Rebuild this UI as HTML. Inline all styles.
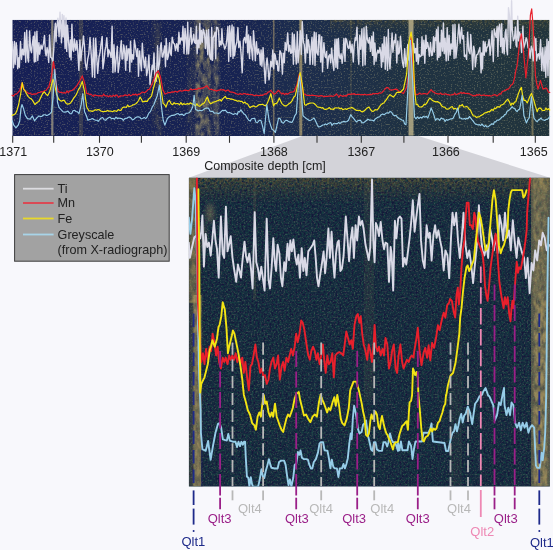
<!DOCTYPE html>
<html><head><meta charset="utf-8"><title>Composite depth</title><style>html,body{margin:0;padding:0;background:#f8f8fc;width:553px;height:550px;overflow:hidden}svg{display:block}</style></head><body>
<svg width="553" height="550" viewBox="0 0 553 550">
<defs><clipPath id="ctp"><rect x="12.3" y="19.8" width="537.2" height="116.3"/></clipPath><clipPath id="czp"><rect x="188.9" y="177.7" width="361.0" height="308.7"/></clipPath>

<filter id="blur1" x="-50%" y="0" width="200%" height="100%"><feGaussianBlur stdDeviation="0.6 0"/></filter>
<filter id="blur2" x="-50%" y="-50%" width="200%" height="200%"><feGaussianBlur stdDeviation="2.5"/></filter>
<filter id="spk" x="0" y="0" width="100%" height="100%" color-interpolation-filters="sRGB">
 <feTurbulence type="fractalNoise" baseFrequency="0.7" numOctaves="1" seed="5" result="n"/>
 <feColorMatrix type="matrix" values="0 0 0 0 0.70  0 0 0 0 0.68  0 0 0 0 0.50  5 0 0 0 -2.7"/>
 <feGaussianBlur stdDeviation="0.35"/>
</filter>
<filter id="spk2b" x="0" y="0" width="100%" height="100%" color-interpolation-filters="sRGB">
 <feTurbulence type="fractalNoise" baseFrequency="0.4" numOctaves="2" seed="13" result="n"/>
 <feColorMatrix in="n" type="matrix" values="0 0 0 0 0  0 0 0 0 0  0 0 0 0 0  2.5 0 0 0 -0.7" result="m"/>
 <feComposite in="SourceGraphic" in2="m" operator="in"/>
</filter>
<filter id="mottm" x="-30%" y="0" width="160%" height="100%" color-interpolation-filters="sRGB">
 <feGaussianBlur in="SourceGraphic" stdDeviation="0.8 0" result="b"/>
 <feTurbulence type="fractalNoise" baseFrequency="0.25 0.12" numOctaves="2" seed="21" result="n"/>
 <feColorMatrix in="n" type="matrix" values="0 0 0 0 0  0 0 0 0 0  0 0 0 0 0  2.2 0 0 0 -0.6" result="m"/>
 <feComposite in="b" in2="m" operator="in"/>
</filter>
<filter id="spk2" x="0" y="0" width="100%" height="100%" color-interpolation-filters="sRGB">
 <feTurbulence type="fractalNoise" baseFrequency="0.35" numOctaves="2" seed="9"/>
 <feColorMatrix type="matrix" values="0 0 0 0 0.35  0 0 0 0 0.45  0 0 0 0 0.45  3 0 0 0 -1.55"/>
</filter>
<filter id="mott" x="0" y="0" width="100%" height="100%" color-interpolation-filters="sRGB">
 <feTurbulence type="fractalNoise" baseFrequency="0.5" numOctaves="2" seed="4"/>
 <feColorMatrix type="matrix" values="0 0 0 0 0.08  0.3 0 0 0 0.01  0.05 0 0 0 0.215  0 0 0 0 1"/>
</filter>
<filter id="mott2" x="0" y="0" width="100%" height="100%" color-interpolation-filters="sRGB">
 <feTurbulence type="fractalNoise" baseFrequency="0.5" numOctaves="2" seed="8"/>
 <feColorMatrix type="matrix" values="0 0 0 0 0.2  0 0 0 0 0.32  0 0 0 0 0.36  1.4 0 0 0 -0.62"/>
</filter>
<linearGradient id="tpg" x1="0" x2="1" y1="0" y2="0">
 <stop offset="0" stop-color="#161f56"/>
 <stop offset="0.42" stop-color="#172352"/>
 <stop offset="0.52" stop-color="#1c2c4e"/>
 <stop offset="0.75" stop-color="#1f3242"/>
 <stop offset="1" stop-color="#21343c"/>
</linearGradient>
<linearGradient id="zbrown" x1="0" x2="0" y1="0" y2="1">
 <stop offset="0" stop-color="#6a5e30" stop-opacity="0.75"/>
 <stop offset="0.45" stop-color="#6a5e30" stop-opacity="0.35"/>
 <stop offset="1" stop-color="#6a5e30" stop-opacity="0"/>
</linearGradient>
<linearGradient id="zpg" x1="0" x2="1" y1="0" y2="0">
 <stop offset="0" stop-color="#1e2a42"/>
 <stop offset="1" stop-color="#202c40"/>
</linearGradient>

</defs>
<rect x="0" y="0" width="553" height="550" fill="#f8f8fc"/>
<polygon points="303.7,135.6 417,135.6 549.9,177.7 188.9,177.7" fill="#d3d3d9"/>
<g clip-path="url(#ctp)"><rect x="12.3" y="19.8" width="537.2" height="116.3" fill="url(#tpg)"/><rect x="330" y="19.8" width="220" height="12" fill="url(#zbrown)" opacity="0.7" filter="url(#spk2b)"/><rect x="51.2" y="19.8" width="2.2" height="115.8" fill="#d8c898" opacity="0.55" filter="url(#blur1)"/><rect x="79.0" y="19.8" width="4.0" height="115.8" fill="#807850" opacity="0.3" filter="url(#blur1)"/><rect x="152.5" y="19.8" width="9.0" height="115.8" fill="#807850" opacity="0.3" filter="url(#mottm)"/><rect x="187.0" y="19.8" width="6.0" height="115.8" fill="#807850" opacity="0.25" filter="url(#mottm)"/><rect x="195.0" y="19.8" width="10.0" height="115.8" fill="#c0b070" opacity="0.6" filter="url(#mottm)"/><rect x="205.0" y="19.8" width="6.0" height="115.8" fill="#b8a868" opacity="0.55" filter="url(#mottm)"/><rect x="213.0" y="19.8" width="6.0" height="115.8" fill="#c0b070" opacity="0.5" filter="url(#mottm)"/><rect x="272.9" y="19.8" width="1.6" height="115.8" fill="#c0a870" opacity="0.5" filter="url(#blur1)"/><rect x="299.3" y="19.8" width="3.0" height="115.8" fill="#d0b878" opacity="0.6" filter="url(#blur1)"/><rect x="350.0" y="19.8" width="2.0" height="115.8" fill="#8c8058" opacity="0.2" filter="url(#blur1)"/><rect x="408.5" y="19.8" width="5.0" height="115.8" fill="#d8c898" opacity="0.7" filter="url(#blur1)"/><rect x="531.5" y="19.8" width="2.0" height="115.8" fill="#c0a870" opacity="0.5" filter="url(#blur1)"/><rect x="12.3" y="19.8" width="537.2" height="116.3" filter="url(#spk)" opacity="0.35"/></g>
<g clip-path="url(#czp)"><rect x="188.9" y="177.7" width="361" height="308.7" filter="url(#mott)"/><rect x="188.9" y="177.7" width="361" height="26" fill="url(#zbrown)" filter="url(#spk2b)"/><rect x="188.9" y="177.7" width="8" height="125" fill="#8c7c50" opacity="0.45" filter="url(#blur1)"/><rect x="188.9" y="177.7" width="8" height="125" fill="#a89458" opacity="0.5" filter="url(#mottm)"/><rect x="188.9" y="300" width="5" height="186.4" fill="#8c7c50" opacity="0.25" filter="url(#blur1)"/><rect x="193.5" y="295" width="8" height="191.4" fill="#a08c58" opacity="0.55" filter="url(#blur1)"/><rect x="193.5" y="295" width="8" height="191.4" fill="#c0a868" opacity="0.5" filter="url(#mottm)"/><rect x="201" y="430" width="1.6" height="56.4" fill="#141c50" opacity="0.8"/><ellipse cx="210" cy="213" rx="4" ry="10" fill="#a09060" opacity="0.45" filter="url(#blur2)"/><ellipse cx="203" cy="235" rx="3" ry="14" fill="#a09060" opacity="0.3" filter="url(#blur2)"/><rect x="531" y="177.7" width="18.9" height="308.7" fill="#9c8a58" opacity="0.45" filter="url(#blur1)"/><rect x="533" y="177.7" width="14.5" height="308.7" fill="#b09a60" opacity="0.6" filter="url(#mottm)"/><rect x="534" y="300" width="13" height="186.4" fill="#b09a60" opacity="0.45" filter="url(#mottm)"/><rect x="253.2" y="177.7" width="3.0" height="122.3" fill="#8c7c50" opacity="0.18" filter="url(#blur1)"/><rect x="364.0" y="177.7" width="10.0" height="222.3" fill="#8c7c50" opacity="0.1" filter="url(#blur1)"/><rect x="450.0" y="330" width="12.0" height="156.0" fill="#8c7c50" opacity="0.08" filter="url(#blur1)"/><rect x="188.9" y="177.7" width="361" height="308.7" filter="url(#spk)" opacity="0.22"/><rect x="188.9" y="177.7" width="361" height="308.7" filter="url(#spk2)" opacity="0.2"/></g>
<line x1="12.7" y1="135.8" x2="12.7" y2="142.8" stroke="#333" stroke-width="1.1"/>
<line x1="53.7" y1="135.8" x2="53.7" y2="142.8" stroke="#333" stroke-width="1.1"/>
<line x1="99.5" y1="135.8" x2="99.5" y2="142.8" stroke="#333" stroke-width="1.1"/>
<line x1="141.4" y1="135.8" x2="141.4" y2="142.8" stroke="#333" stroke-width="1.1"/>
<line x1="186.2" y1="135.8" x2="186.2" y2="142.8" stroke="#333" stroke-width="1.1"/>
<line x1="229.5" y1="135.8" x2="229.5" y2="142.8" stroke="#333" stroke-width="1.1"/>
<line x1="273.9" y1="135.8" x2="273.9" y2="142.8" stroke="#333" stroke-width="1.1"/>
<line x1="317" y1="135.8" x2="317" y2="142.8" stroke="#333" stroke-width="1.1"/>
<line x1="361.3" y1="135.8" x2="361.3" y2="142.8" stroke="#333" stroke-width="1.1"/>
<line x1="403.9" y1="135.8" x2="403.9" y2="142.8" stroke="#333" stroke-width="1.1"/>
<line x1="448" y1="135.8" x2="448" y2="142.8" stroke="#333" stroke-width="1.1"/>
<line x1="493.2" y1="135.8" x2="493.2" y2="142.8" stroke="#333" stroke-width="1.1"/>
<line x1="535.3" y1="135.8" x2="535.3" y2="142.8" stroke="#333" stroke-width="1.1"/>
<text x="13.2" y="155.6" text-anchor="middle" font-family="Liberation Sans, Arial, sans-serif" font-size="12.5" fill="#222">1371</text>
<text x="99.8" y="155.6" text-anchor="middle" font-family="Liberation Sans, Arial, sans-serif" font-size="12.5" fill="#222">1370</text>
<text x="186.2" y="155.6" text-anchor="middle" font-family="Liberation Sans, Arial, sans-serif" font-size="12.5" fill="#222">1369</text>
<text x="273.9" y="155.6" text-anchor="middle" font-family="Liberation Sans, Arial, sans-serif" font-size="12.5" fill="#222">1368</text>
<text x="361.3" y="155.6" text-anchor="middle" font-family="Liberation Sans, Arial, sans-serif" font-size="12.5" fill="#222">1367</text>
<text x="445.9" y="155.6" text-anchor="middle" font-family="Liberation Sans, Arial, sans-serif" font-size="12.5" fill="#222">1366</text>
<text x="533.7" y="155.6" text-anchor="middle" font-family="Liberation Sans, Arial, sans-serif" font-size="12.5" fill="#222">1365</text>
<text x="265" y="169.6" text-anchor="middle" font-family="Liberation Sans, Arial, sans-serif" font-size="12.5" fill="#222">Composite depth [cm]</text>
<rect x="14.6" y="174.6" width="154.6" height="86.6" fill="#a2a2a2" stroke="#3c3c3c" stroke-width="1"/>
<line x1="23" y1="188.7" x2="53.6" y2="188.7" stroke="#dcdce0" stroke-width="1.8"/>
<text x="57.6" y="192.5" font-family="Liberation Sans, Arial, sans-serif" font-size="12.6" fill="#222">Ti</text>
<line x1="23" y1="203" x2="53.6" y2="203" stroke="#e0404c" stroke-width="1.8"/>
<text x="57.6" y="206.6" font-family="Liberation Sans, Arial, sans-serif" font-size="12.6" fill="#222">Mn</text>
<line x1="23" y1="218.5" x2="53.6" y2="218.5" stroke="#e8d82a" stroke-width="1.8"/>
<text x="57.6" y="222.5" font-family="Liberation Sans, Arial, sans-serif" font-size="12.6" fill="#222">Fe</text>
<line x1="23" y1="234.5" x2="53.6" y2="234.5" stroke="#a8d4e8" stroke-width="1.8"/>
<text x="57.6" y="239.4" font-family="Liberation Sans, Arial, sans-serif" font-size="12.6" fill="#222">Greyscale</text>
<text x="57.6" y="254.2" font-family="Liberation Sans, Arial, sans-serif" font-size="12.6" fill="#222">(from X-radiograph)</text>
<g fill="none" stroke-linejoin="round" stroke-linecap="round">
<polyline points="12.3,41.6 13.5,67.8 14.4,41.4 15.2,64.3 16.2,42.6 16.9,50.4 17.7,68.8 18.8,57.5 19.4,67.2 20.5,41.4 21.5,59.5 22.5,49.2 23.1,53.8 23.8,54.9 24.7,32.5 25.7,62.3 26.7,30.1 27.7,57.8 28.5,62.1 29.6,31.0 30.7,50.1 31.5,52.6 32.2,45.2 33.4,36.2 34.3,62.0 34.9,32.0 35.7,61.6 36.9,31.2 37.8,60.5 38.9,42.6 39.7,54.2 41.0,44.9 42.1,49.2 42.8,46.1 43.5,43.4 44.5,35.4 45.4,52.1 46.1,55.9 47.1,47.6 47.9,52.1 48.7,62.4 49.6,34.9 50.7,57.3 51.9,58.3 52.9,61.2 53.7,50.0 54.5,33.4 55.4,23.3 56.0,41.8 56.8,27.7 57.9,18.2 59.1,36.8 60.0,12.2 60.8,28.7 61.5,42.9 62.3,14.4 63.1,36.9 63.9,15.8 65.1,48.6 66.0,17.9 66.7,51.4 67.5,25.2 68.6,41.9 69.6,57.0 70.4,39.9 71.1,59.9 71.9,24.2 72.9,50.0 73.7,51.4 74.4,38.9 75.2,45.7 75.9,50.3 76.8,40.8 77.7,49.9 78.9,70.4 79.9,39.9 80.9,60.8 81.6,53.0 82.8,43.8 83.4,35.9 84.5,46.5 85.3,63.2 86.6,69.5 87.7,59.1 88.8,54.0 90.0,37.5 91.2,53.7 92.4,76.8 93.5,38.2 94.7,77.5 95.7,38.3 96.7,56.7 97.7,73.4 99.0,57.0 100.1,52.1 101.2,42.5 102.2,36.4 102.9,68.8 104.0,60.8 105.0,50.6 105.8,46.9 106.8,37.8 108.0,56.7 108.8,49.6 109.9,52.9 111.1,57.5 112.1,26.2 112.9,72.6 114.0,44.8 115.1,71.7 116.3,57.7 117.3,46.3 118.2,72.5 119.3,63.7 120.5,48.4 121.3,40.6 122.0,59.0 122.8,58.8 123.7,45.0 124.6,50.4 125.7,70.2 126.4,46.0 127.1,60.2 128.2,48.9 129.1,48.9 129.8,71.8 130.5,41.3 131.7,62.1 132.5,54.6 133.5,59.0 134.4,40.0 135.6,47.9 136.8,56.3 137.7,48.7 138.5,76.3 139.6,50.9 140.3,60.5 141.4,70.7 142.3,43.1 143.2,56.3 144.4,67.8 145.6,57.2 146.6,75.6 147.7,70.1 148.9,55.0 150.0,84.5 151.2,75.5 152.2,65.3 153.0,69.6 154.0,52.9 155.1,82.0 156.3,80.9 157.6,45.7 158.4,69.5 159.6,62.7 160.3,48.1 161.2,42.7 162.2,56.8 162.8,57.1 164.0,50.2 164.7,46.0 165.5,66.8 166.2,38.4 167.4,59.6 168.4,55.9 169.6,42.6 170.3,52.7 171.2,55.4 172.2,37.3 173.4,43.0 174.4,43.7 175.5,50.6 176.7,43.6 178.0,51.4 178.9,32.1 179.9,44.1 180.9,37.9 182.1,40.3 183.0,26.2 184.0,53.4 185.0,28.4 186.0,38.8 186.9,54.0 187.7,22.1 188.6,53.8 189.7,39.3 190.9,27.6 191.7,44.1 192.7,40.6 193.8,34.2 194.5,42.4 195.6,43.6 196.4,26.2 197.1,53.6 198.2,40.3 199.0,47.5 199.8,23.5 200.6,44.0 201.5,30.4 202.3,42.3 203.3,29.1 204.5,33.6 205.5,48.5 206.6,30.1 207.8,54.7 208.6,29.4 209.8,56.5 211.0,59.5 211.7,27.5 212.5,60.4 213.2,37.9 214.3,35.0 215.1,32.2 215.7,58.8 216.5,27.3 217.7,27.7 218.5,30.6 219.4,46.4 220.5,41.1 221.2,45.0 221.9,28.7 222.8,43.6 223.6,44.0 224.7,49.1 226.0,45.7 226.7,40.8 227.9,26.4 228.7,61.5 229.7,25.8 230.7,56.6 231.3,33.5 232.1,25.0 233.0,58.4 233.8,27.0 234.5,55.9 235.7,46.3 236.8,42.2 237.9,27.6 238.8,47.6 240.0,41.3 241.1,54.5 242.2,72.8 243.4,40.6 244.5,37.5 245.7,42.8 246.8,26.2 247.7,52.9 248.6,34.9 249.5,58.5 250.5,36.4 251.6,49.4 252.6,60.0 253.5,30.7 254.4,42.9 255.3,60.7 256.4,41.7 257.5,54.2 258.5,48.9 259.6,54.7 260.3,65.0 261.1,49.9 261.9,66.3 263.1,47.6 264.3,68.5 265.3,83.3 266.4,62.7 267.1,57.9 267.8,65.1 269.0,79.9 269.7,76.1 270.7,61.5 271.9,66.7 272.8,50.0 273.7,68.9 274.5,53.6 275.3,55.4 276.4,64.3 277.2,61.0 277.9,70.6 278.8,71.0 279.9,50.6 281.2,53.4 282.4,74.1 283.3,53.3 284.3,62.7 285.2,42.5 286.4,50.1 287.7,32.9 288.8,51.6 289.8,45.1 290.8,53.4 291.7,52.6 292.4,33.0 293.4,64.3 294.2,34.4 295.3,51.0 296.3,64.1 297.3,31.8 298.1,62.7 299.3,49.1 300.3,30.8 301.3,54.5 302.3,21.8 303.4,42.3 304.2,44.4 305.4,62.9 306.6,34.7 307.4,52.9 308.3,39.8 309.3,46.3 310.0,64.4 310.9,50.3 312.0,37.2 312.8,64.2 313.6,41.3 314.3,32.1 315.0,65.5 316.1,32.8 316.9,52.6 318.1,55.1 318.9,34.8 319.8,35.4 320.7,62.1 321.7,36.7 322.5,71.8 323.2,53.7 323.9,42.6 325.0,56.3 325.8,57.7 326.6,51.5 327.6,68.2 328.7,56.2 329.8,54.6 330.7,62.9 331.7,48.3 332.8,62.7 333.8,70.5 335.0,39.2 335.9,67.3 336.8,39.3 337.6,68.5 338.4,38.5 339.3,55.7 340.2,58.7 341.1,53.8 342.2,63.3 343.2,52.5 343.9,38.5 345.0,61.4 345.7,38.3 346.7,40.2 347.9,47.7 348.9,48.6 349.9,41.2 351.0,52.7 352.1,44.2 353.3,62.0 354.1,46.9 355.2,37.7 355.9,40.2 357.0,27.1 357.9,52.8 358.8,64.3 359.7,35.5 360.7,49.3 361.9,29.0 362.8,65.8 364.0,27.7 365.1,64.9 366.3,26.2 367.4,39.8 368.5,43.1 369.4,37.6 370.5,51.4 371.7,36.2 372.5,55.4 373.4,32.2 374.1,64.5 374.9,43.0 376.0,61.2 376.8,54.5 377.8,50.2 379.0,53.2 379.8,47.5 380.5,50.8 381.5,67.2 382.3,44.0 383.1,61.7 384.2,36.6 385.3,69.2 386.3,37.2 387.5,70.4 388.3,29.4 389.3,62.0 390.0,68.9 391.2,47.1 392.1,33.0 392.9,52.3 394.1,40.8 394.8,42.8 395.7,34.1 396.8,62.9 397.8,41.0 398.6,54.0 399.4,52.2 400.5,36.3 401.7,54.3 402.5,62.7 403.6,67.4 404.7,48.8 405.9,66.6 407.0,55.7 407.7,44.8 408.9,60.0 409.9,55.3 411.0,45.4 411.9,58.3 413.1,47.1 413.8,43.5 414.6,52.8 415.7,48.5 416.4,61.3 417.3,38.7 418.1,64.2 419.2,54.4 420.1,56.7 421.3,55.7 422.0,36.8 422.9,55.2 423.9,40.3 424.8,63.2 425.9,35.1 426.7,48.5 427.6,42.5 428.5,47.4 429.4,56.2 430.5,42.5 431.6,55.6 432.4,55.2 433.5,36.7 434.3,52.0 435.1,37.6 435.8,40.2 436.5,29.7 437.4,59.9 438.1,26.9 438.9,57.4 439.8,42.9 440.5,55.9 441.5,30.2 442.5,51.1 443.4,22.9 444.2,53.6 445.1,38.2 446.2,60.9 447.2,27.6 448.3,60.3 449.1,35.2 450.2,55.1 451.1,44.0 452.2,49.0 453.0,24.7 454.1,58.5 455.0,24.5 455.9,57.9 457.1,46.8 458.1,33.0 458.9,24.1 460.1,43.1 460.8,33.1 461.6,27.5 462.4,38.9 463.6,35.4 464.4,56.5 465.6,55.1 466.6,59.4 467.6,32.2 468.8,50.9 470.0,53.8 470.7,34.5 471.9,53.2 472.7,69.5 473.7,46.3 474.6,51.4 475.3,66.7 476.6,55.0 477.8,54.1 478.8,50.9 479.9,47.5 481.1,72.7 481.7,53.0 482.5,68.9 483.3,41.3 484.3,55.3 485.1,41.9 486.1,51.9 486.8,47.7 488.0,45.8 489.1,39.4 490.1,55.2 491.1,45.6 492.1,30.8 493.3,61.6 494.2,29.0 495.1,33.6 496.1,37.4 497.1,26.5 497.9,56.4 498.6,28.1 499.7,24.2 500.7,46.6 501.7,23.6 502.4,52.8 503.3,38.3 504.2,53.9 505.2,32.6 506.0,29.3 506.8,50.2 507.5,54.8 508.5,7.8 509.7,18.0 510.5,48.2 511.6,0.7 512.3,29.8 513.4,40.7 514.6,37.6 515.3,27.0 516.1,45.2 516.8,47.1 517.7,16.1 518.6,40.9 519.2,32.0 520.4,34.5 521.6,52.5 522.9,26.3 523.7,48.0 524.9,44.3 526.1,37.8 526.9,40.0 528.1,47.9 529.3,48.8 530.1,58.3 531.3,46.3 532.4,49.7 533.2,60.9 534.3,37.0 535.0,50.2 535.9,38.5 536.6,60.7 537.7,54.5 538.5,53.7 539.5,59.0 540.6,39.7 541.8,70.6 542.8,47.8 544.0,71.2 545.1,47.0 545.8,77.2 547.0,39.1 548.0,75.7 548.7,41.5 549.5,59.1" stroke="#d9d9e6" stroke-width="1.4"/>
<polyline points="12.0,95.2 13.5,96.1 15.0,94.1 16.5,94.1 18.1,92.4 19.8,90.3 22.2,82.6 24.2,90.3 25.9,91.5 27.5,92.5 28.9,93.7 30.4,93.1 31.8,94.6 33.3,94.2 34.7,93.9 36.2,94.1 37.9,92.7 39.5,92.5 41.1,91.7 42.7,91.9 44.4,90.8 46.0,90.3 47.4,88.5 48.7,87.0 50.9,79.4 52.3,70.0 53.5,61.5 55.0,71.5 55.8,81.5 58.0,91.4 60.1,92.5 61.5,92.2 62.9,93.1 64.3,92.7 65.7,93.2 67.0,90.9 68.3,92.7 69.7,91.2 71.0,90.5 72.3,90.3 73.8,89.0 75.3,87.5 76.8,85.9 78.4,83.1 80.1,80.3 82.3,75.9 84.5,82.5 86.7,93.6 88.1,93.6 89.5,94.6 90.9,94.1 92.3,95.4 93.6,96.3 94.8,94.8 96.1,95.5 97.4,95.7 98.7,95.9 99.9,95.7 101.2,95.9 102.4,96.2 103.7,94.0 104.9,95.9 106.1,95.9 107.4,95.8 108.6,96.9 109.8,95.6 111.1,96.1 112.3,96.3 113.5,95.1 114.7,96.3 116.0,95.2 117.2,95.2 118.4,97.3 119.6,96.4 120.9,95.9 122.1,96.0 123.3,95.9 124.7,94.9 126.1,95.1 127.5,95.8 128.9,94.3 130.3,95.6 131.7,95.4 133.0,94.1 134.3,94.9 135.7,93.9 137.0,95.3 138.3,94.1 139.6,94.3 141.0,93.1 142.3,92.0 143.7,92.3 145.0,92.5 146.5,91.3 147.9,89.7 149.4,89.2 151.1,85.9 152.7,82.5 154.3,78.3 156.0,73.2 158.3,71.0 160.5,77.0 162.7,89.2 164.9,94.1 166.4,93.5 167.9,92.7 169.4,92.5 170.7,92.6 172.0,91.8 173.4,92.2 174.7,91.4 176.0,91.4 177.3,92.2 178.7,91.0 180.0,90.5 181.4,91.1 182.7,91.0 184.0,90.4 185.3,90.1 186.7,90.4 188.0,90.8 189.3,90.3 190.6,88.8 192.0,89.8 193.3,89.5 194.7,89.3 196.0,89.2 197.3,89.4 198.6,88.0 200.0,88.8 201.3,88.1 202.6,88.1 204.1,87.4 205.6,86.4 207.1,85.9 209.3,89.2 210.8,89.3 212.2,89.6 213.7,90.3 215.0,90.3 216.4,91.1 217.7,90.4 219.1,90.2 220.4,89.6 221.7,90.0 223.0,89.6 224.4,90.3 225.7,91.3 227.0,90.3 228.3,90.0 229.7,91.6 231.0,92.1 232.4,92.2 233.7,92.5 235.0,93.1 236.3,93.7 237.7,94.3 239.0,94.1 240.3,93.6 241.9,94.5 243.4,93.7 245.0,93.6 246.5,94.3 247.9,94.2 249.4,94.5 250.9,94.7 252.2,94.5 253.4,95.2 254.7,95.8 255.9,95.0 257.2,95.3 258.4,95.6 259.7,95.4 261.0,95.1 262.4,95.4 263.7,94.7 265.1,93.7 266.4,94.1 267.9,92.2 269.3,91.9 270.8,90.3 272.5,92.5 274.2,94.1 275.7,93.4 277.1,91.7 278.6,90.3 280.2,92.3 281.9,94.1 283.2,93.1 284.6,94.7 285.9,93.3 287.3,94.3 288.6,93.6 290.0,92.4 291.4,92.1 292.7,92.0 294.1,91.4 295.6,87.8 297.0,84.8 299.2,74.1 301.5,82.5 303.7,94.1 304.9,94.0 306.1,95.2 307.3,95.4 308.5,95.4 309.8,95.7 311.0,95.3 312.3,95.1 313.6,95.4 314.9,95.5 316.1,95.8 317.4,95.9 318.7,96.4 319.9,95.9 321.2,95.6 322.5,95.8 323.8,96.9 325.0,96.3 326.3,96.3 327.6,96.3 328.8,96.2 330.1,96.2 331.4,95.9 332.7,96.3 333.9,96.0 335.2,95.4 336.5,93.9 337.7,95.5 339.0,97.2 340.2,95.0 341.5,95.8 342.7,96.4 344.0,95.9 345.3,95.6 346.5,96.1 347.8,94.4 349.1,94.2 350.4,94.5 351.6,93.9 352.9,94.1 354.2,93.6 355.5,94.6 356.8,94.5 358.1,94.4 359.4,94.3 360.7,94.8 362.0,94.7 363.5,94.6 364.9,94.3 366.4,95.0 367.9,94.7 369.2,94.7 370.4,94.4 371.7,94.6 372.9,93.5 374.2,93.8 375.4,93.5 376.7,93.6 378.0,93.8 379.4,92.8 380.7,93.2 382.1,92.4 383.4,91.0 385.0,89.0 386.7,87.4 388.2,87.8 389.7,89.6 391.2,90.3 392.7,89.8 394.1,89.5 395.6,89.2 397.1,89.3 398.5,91.0 400.0,91.4 401.7,92.6 403.4,93.6 405.0,90.5 406.7,87.0 408.9,71.5 411.1,33.7 413.3,71.5 415.6,94.7 417.0,94.7 418.4,93.9 419.7,93.0 421.1,94.1 422.4,93.9 423.8,93.6 425.1,93.5 426.5,94.2 427.8,93.6 429.5,91.5 431.1,89.6 432.6,91.6 434.0,92.1 435.5,93.2 436.8,93.7 438.1,93.8 439.4,94.1 440.7,93.1 442.0,94.5 443.3,94.1 444.6,94.2 445.8,93.7 447.1,94.7 448.4,94.6 449.7,95.2 450.9,95.0 452.2,94.7 453.5,94.6 454.7,93.2 456.0,94.7 457.2,94.3 458.5,93.6 459.7,93.1 461.0,92.5 462.3,93.4 463.7,92.5 465.0,93.5 466.4,93.4 467.7,93.6 469.0,93.4 470.4,94.5 471.7,94.9 473.1,96.0 474.4,95.4 475.7,95.9 476.9,94.5 478.2,95.4 479.4,94.4 480.7,95.5 481.9,95.5 483.2,95.1 484.4,94.9 485.7,95.7 486.9,95.2 488.2,95.9 489.5,95.4 490.7,96.1 492.0,95.7 493.2,95.0 494.5,94.7 495.8,95.0 497.0,96.0 498.3,94.9 499.6,93.7 500.8,94.1 502.1,91.8 503.3,91.2 504.6,90.4 505.8,90.3 507.1,89.1 508.3,89.1 509.6,87.6 510.8,85.3 512.0,84.8 513.3,82.9 514.6,77.7 515.8,70.8 517.1,65.3 518.4,54.1 519.6,42.7 521.4,33.9 523.4,50.2 524.6,63.8 525.9,77.8 527.1,65.3 528.4,55.2 530.4,15.1 531.7,8.8 533.4,30.1 535.4,75.3 536.7,83.7 538.0,89.1 539.2,85.0 540.5,80.3 541.8,85.2 543.0,89.1 544.5,88.7 546.0,87.9 547.2,89.5 548.5,92.2 549.7,92.4" stroke="#e8202c" stroke-width="1.2"/>
<polyline points="12.2,115.4 13.8,114.6 15.5,113.7 17.1,110.0 18.7,104.5 20.9,92.5 22.2,82.6 23.6,89.2 25.0,90.7 26.4,93.5 28.0,96.4 29.6,97.9 31.0,98.8 32.4,100.1 33.6,102.1 34.9,104.5 37.3,102.3 38.9,101.4 40.5,97.9 42.7,93.5 44.4,91.9 46.0,94.1 47.6,95.7 49.8,91.4 51.5,84.8 53.1,79.4 54.7,84.8 56.4,93.5 58.5,99.0 59.9,100.2 61.3,101.2 62.6,100.6 64.0,100.1 66.2,103.4 67.6,104.2 68.9,103.9 70.6,102.9 72.3,100.3 73.8,98.0 75.3,96.2 76.8,93.6 78.4,89.6 80.1,87.0 82.3,81.4 84.5,91.4 86.7,107.0 89.0,111.0 90.7,110.9 92.3,111.4 93.8,110.7 95.2,109.7 96.7,110.3 98.0,109.5 99.4,109.8 100.7,111.0 102.1,111.4 103.4,111.8 104.7,111.4 106.0,111.5 107.4,110.4 108.7,111.1 110.0,111.0 111.3,111.2 112.7,111.7 114.0,110.6 115.4,111.0 116.7,111.4 118.2,109.6 119.6,110.3 121.1,110.3 122.4,107.7 123.7,107.1 125.0,107.0 126.3,107.5 127.7,105.0 129.0,106.8 130.4,106.3 131.7,105.8 133.1,104.8 134.4,104.5 135.8,103.7 137.2,102.5 138.6,100.5 140.1,97.0 141.4,99.3 142.7,102.0 144.2,101.4 145.7,101.2 147.2,101.4 148.7,98.9 150.1,97.7 151.6,95.9 153.3,88.6 155.0,82.5 156.4,79.0 157.8,74.1 159.2,79.2 160.5,87.0 161.8,94.5 163.2,103.6 164.6,104.6 166.0,107.0 167.7,102.2 169.4,100.3 171.1,103.8 172.7,104.7 174.1,102.7 175.4,104.0 176.8,103.5 178.2,103.6 179.5,104.9 180.9,102.5 182.2,104.8 183.6,103.6 184.9,104.3 186.2,104.1 187.5,103.6 188.9,104.3 190.2,102.9 191.5,103.6 192.8,104.0 194.2,104.7 195.5,106.2 196.9,103.7 198.2,105.8 199.6,106.3 200.9,105.4 202.3,103.8 203.7,103.6 205.0,101.6 206.2,98.9 207.5,97.0 208.9,101.5 210.4,103.6 211.8,103.2 213.2,102.3 214.6,101.8 216.0,101.4 217.3,100.8 218.6,100.4 220.0,99.5 221.3,101.1 222.6,99.2 223.9,97.7 225.3,96.4 226.6,98.7 228.0,98.5 229.3,98.5 230.6,99.1 231.9,99.1 233.3,99.5 234.6,100.2 235.9,100.3 237.4,101.3 238.8,100.7 240.3,101.4 241.9,101.3 243.4,103.2 245.0,102.0 246.2,103.6 247.5,103.8 248.7,105.8 250.0,107.7 251.3,106.8 252.7,106.1 254.0,105.9 255.3,107.0 256.7,106.6 258.1,105.3 259.5,104.5 260.9,104.7 262.4,104.2 263.8,105.1 265.3,105.8 267.0,103.8 268.6,100.3 270.8,93.6 272.1,99.4 273.5,105.8 274.9,103.7 276.4,103.6 277.9,101.3 279.3,98.1 280.6,100.9 281.9,103.6 283.4,104.9 284.9,105.9 286.4,105.8 287.9,104.6 289.3,103.5 290.8,102.5 292.3,100.3 293.7,97.3 295.2,95.9 296.5,90.3 297.9,83.7 300.1,72.6 302.3,84.8 304.6,104.7 305.9,105.3 307.2,104.1 308.5,103.6 310.0,103.2 311.5,103.0 313.0,103.0 314.5,103.8 315.9,105.1 317.4,107.0 318.7,107.2 320.1,107.3 321.4,108.0 322.8,107.7 324.1,109.2 325.4,109.4 326.7,109.2 328.1,108.4 329.4,107.6 330.7,109.2 332.0,109.0 333.4,109.5 334.7,108.0 336.1,107.9 337.4,108.0 338.7,107.8 340.0,108.9 341.4,108.1 342.7,109.7 344.0,109.2 345.3,108.7 346.7,109.4 348.0,108.5 349.4,108.1 350.7,108.0 352.0,107.4 353.4,108.4 354.7,109.2 356.1,110.3 357.4,110.3 358.6,110.7 359.8,110.3 361.0,111.2 362.2,111.9 363.4,111.4 364.8,110.2 366.2,108.9 367.6,107.8 369.0,107.0 370.6,109.8 372.3,111.4 373.7,111.2 375.1,109.6 376.5,110.0 377.9,109.2 379.4,107.0 380.8,104.9 382.3,103.6 383.8,103.0 385.2,101.2 386.7,99.2 388.4,96.4 390.1,94.7 391.8,95.9 393.4,97.0 395.0,95.1 396.7,92.5 398.4,92.1 400.0,92.5 401.7,90.8 403.4,89.2 405.0,81.9 406.7,73.7 408.9,42.6 411.1,32.0 412.9,44.8 414.5,89.2 416.2,104.7 417.5,104.2 418.7,106.5 420.0,107.0 421.4,106.9 422.8,106.2 424.1,104.3 425.5,104.7 427.0,102.7 428.5,99.7 430.0,98.1 431.5,99.6 432.9,100.7 434.4,101.4 435.9,101.9 437.4,101.6 438.9,102.5 440.4,103.6 441.8,106.1 443.3,107.0 444.8,107.1 446.2,108.8 447.7,109.2 449.2,108.7 450.7,107.2 452.2,106.5 453.7,109.1 455.1,108.3 456.6,109.2 458.1,109.6 459.5,105.5 461.0,105.8 462.3,104.5 463.7,107.0 465.0,107.0 466.4,106.5 467.7,107.0 469.1,109.2 470.4,110.1 471.8,113.2 473.2,115.8 474.9,116.0 476.6,117.6 477.9,116.8 479.2,116.9 480.6,115.6 481.9,115.1 483.2,114.2 484.4,113.1 485.7,112.7 486.9,112.4 488.2,111.5 489.4,112.0 490.7,110.5 492.0,109.3 493.2,110.6 494.5,107.9 495.8,108.7 497.0,106.8 498.3,106.7 499.6,107.1 500.8,105.3 502.1,104.7 503.3,104.2 504.6,102.9 506.2,100.6 507.8,99.2 509.3,101.6 510.8,105.4 512.0,103.1 513.3,104.4 514.5,102.1 515.8,101.7 517.1,97.5 518.3,94.1 519.6,90.4 521.4,87.4 522.6,95.3 523.9,100.4 525.5,100.4 527.2,102.9 528.5,100.0 529.7,96.7 531.4,93.4 532.6,96.6 533.9,100.4 535.5,106.4 537.2,111.7 538.5,108.6 539.7,108.0 541.0,108.6 542.2,110.3 543.5,110.5 544.8,110.3 546.0,108.0 547.2,109.8 548.5,108.7 549.7,110.0" stroke="#f2e414" stroke-width="1.2"/>
<polyline points="12.2,120.8 13.8,125.2 16.0,127.9 18.2,125.2 19.8,120.8 20.9,108.8 22.0,104.5 23.6,108.8 25.3,115.4 27.5,118.6 28.9,118.9 30.2,119.2 32.4,115.9 34.5,120.8 36.7,118.1 38.9,115.9 40.2,116.6 41.6,116.5 43.8,114.8 45.1,114.7 46.5,115.4 47.9,115.1 49.3,114.3 51.5,112.1 53.1,96.8 54.2,80.5 54.8,69.2 55.5,78.0 56.4,85.9 57.5,102.3 59.1,107.7 61.3,109.9 62.9,111.7 64.5,112.1 66.2,111.9 67.8,111.0 70.1,113.6 71.6,113.7 73.0,110.7 74.5,110.3 76.0,111.5 77.5,111.9 79.0,113.6 81.2,104.7 82.8,93.6 84.5,111.4 86.2,115.2 87.9,120.3 89.4,119.6 90.8,119.3 92.3,118.5 93.8,119.4 95.2,120.1 96.7,120.3 98.2,121.3 99.7,119.5 101.2,118.0 102.7,117.5 104.1,119.7 105.6,120.3 107.1,118.7 108.5,117.7 110.0,117.0 111.5,118.8 113.0,118.3 114.5,119.2 116.0,117.2 117.4,118.6 118.9,118.0 120.4,118.5 121.8,118.6 123.3,120.3 124.5,118.9 125.7,118.4 127.0,118.2 128.2,117.2 129.4,116.9 130.9,117.7 132.4,119.9 133.9,119.2 135.4,117.8 136.8,117.0 138.3,116.9 139.8,117.2 141.2,118.8 142.7,118.5 144.2,117.4 145.7,118.6 147.2,116.9 148.8,113.1 150.5,111.4 152.2,107.2 153.8,104.7 155.5,100.3 157.2,95.9 159.4,85.2 161.2,104.7 163.2,120.3 164.9,125.1 167.1,119.2 168.6,117.2 170.1,116.2 171.6,115.4 172.9,115.4 174.2,115.3 175.6,114.4 176.9,113.7 178.2,113.6 179.5,114.9 180.9,114.4 182.2,114.1 183.6,115.5 184.9,114.7 186.3,113.2 187.7,113.2 189.0,112.8 190.4,111.4 192.7,107.0 194.2,95.4 195.5,109.2 196.8,110.1 198.2,111.0 199.7,110.3 201.1,110.8 202.6,110.3 204.1,109.1 205.6,108.3 207.1,108.0 208.6,108.3 210.0,111.3 211.5,111.4 212.8,111.4 214.2,113.2 215.5,113.0 216.9,113.0 218.2,113.6 219.7,113.0 221.1,111.6 222.6,110.3 223.9,110.8 225.3,110.1 226.6,111.7 228.0,112.8 229.3,112.5 230.6,113.1 231.9,113.7 233.3,114.4 234.6,113.7 235.9,113.6 237.1,114.7 238.3,111.5 239.6,112.1 240.8,109.8 242.0,111.4 243.7,113.7 245.3,114.7 247.0,117.6 248.7,120.3 250.2,121.1 251.6,118.8 253.1,118.5 254.6,118.2 256.0,122.2 257.5,122.5 259.2,120.3 260.9,120.3 262.5,125.9 264.2,133.6 265.5,119.0 266.8,104.7 269.1,120.3 270.6,125.2 272.0,129.1 273.6,130.4 275.3,132.5 277.0,125.4 278.6,118.0 280.2,118.7 281.9,122.5 283.4,123.2 284.9,121.0 286.4,120.3 287.8,120.9 289.1,121.9 290.5,122.1 291.9,122.5 293.4,119.7 294.8,115.8 296.3,113.6 298.6,82.5 299.7,75.9 301.5,95.9 303.0,115.8 304.6,117.1 306.3,118.5 307.8,119.5 309.3,120.5 310.8,120.3 312.5,119.1 314.1,118.0 315.6,121.0 317.0,124.2 318.5,126.9 319.9,126.8 321.3,126.0 322.7,125.0 324.1,124.7 325.4,123.9 326.7,124.7 328.1,123.6 329.4,123.0 330.7,122.5 332.0,125.5 333.4,123.6 334.7,123.8 336.1,123.5 337.4,123.6 338.7,122.3 340.0,123.6 341.4,122.2 342.7,121.9 344.0,121.4 345.5,121.9 347.0,121.5 348.5,120.3 350.7,114.7 352.2,116.8 353.6,118.4 355.1,120.3 356.4,122.0 357.7,120.8 359.0,120.3 360.5,120.3 361.9,122.6 363.4,122.9 364.9,121.8 366.4,120.5 367.9,119.2 369.4,120.1 370.8,120.1 372.3,120.3 373.8,121.1 375.2,118.9 376.7,118.0 378.2,117.1 379.7,116.7 381.2,114.7 382.7,113.9 384.1,114.8 385.6,113.6 387.1,112.8 388.6,113.1 390.1,111.4 391.6,112.2 393.0,114.7 394.5,115.8 396.0,115.4 397.4,117.2 398.9,118.5 400.4,119.1 401.9,120.1 403.4,120.3 404.7,124.1 406.0,124.7 408.2,82.5 410.5,40.4 412.7,82.5 414.5,116.9 416.0,118.9 417.4,116.9 418.9,118.5 420.4,117.2 421.8,118.0 423.3,116.3 424.8,117.2 426.3,116.3 427.8,118.0 429.5,113.4 431.1,108.0 432.6,111.2 434.0,115.5 435.5,120.3 436.9,118.7 438.3,118.9 439.7,120.4 441.1,118.0 442.4,118.8 443.7,118.8 445.1,121.4 446.4,119.5 447.7,120.3 449.1,119.6 450.5,118.9 451.9,118.9 453.3,118.0 454.8,114.4 456.2,112.5 457.7,108.0 459.6,118.0 460.8,118.0 462.0,119.0 463.2,119.0 464.4,118.4 465.6,119.3 466.9,118.2 468.1,118.6 469.4,116.5 470.7,118.0 471.9,119.6 473.2,121.2 474.4,122.8 475.7,124.3 476.9,124.4 478.2,125.0 479.4,124.6 480.7,125.6 481.9,124.0 483.2,125.5 484.4,126.6 485.7,125.4 486.9,126.9 488.2,126.8 489.5,125.6 490.7,124.8 492.0,123.7 493.3,124.5 494.5,121.8 495.8,121.8 497.1,120.0 498.3,120.3 499.6,119.5 500.8,118.4 502.1,116.8 503.3,116.7 504.6,114.6 505.8,114.3 507.1,111.2 508.3,110.5 509.6,109.7 510.8,108.5 512.1,106.7 513.3,108.1 514.6,108.3 515.8,110.5 517.1,111.6 518.3,109.7 519.6,109.2 520.9,102.5 522.1,95.4 523.9,115.5 525.1,119.0 526.4,123.0 527.8,119.7 529.2,118.0 531.4,96.7 532.6,107.1 533.9,118.0 535.5,120.1 537.2,121.8 538.5,119.9 539.7,119.4 541.0,118.0 542.2,119.8 543.5,120.0 544.7,120.5 546.0,119.5 547.2,119.4 548.5,118.4 549.7,116.7" stroke="#96cde8" stroke-width="1.15"/>
</g>
<g fill="none" stroke-linejoin="round" stroke-linecap="round" clip-path="url(#czp)">
<polyline points="188.8,242.6 189.9,257.9 192.1,247.0 194.3,237.2 195.8,236.1 198.0,240.0 200.2,238.3 201.3,231.7 202.4,215.4 203.9,266.6 205.6,233.9 207.2,247.0 208.9,242.6 210.7,255.7 212.2,240.5 213.9,220.8 215.5,240.5 217.0,249.2 218.7,277.6 220.9,216.5 222.7,253.6 224.2,257.9 225.9,206.6 227.5,251.4 229.0,244.8 230.7,236.1 232.5,257.9 234.4,271.0 236.2,281.9 237.9,264.5 239.5,271.0 241.0,277.6 242.3,262.3 244.5,241.6 246.0,255.7 247.5,262.3 249.3,253.6 251.0,268.8 252.6,288.5 254.7,212.1 256.3,262.3 258.0,268.8 259.5,279.7 261.3,266.6 262.8,277.6 264.6,290.6 266.7,218.6 268.5,279.7 270.0,288.5 271.7,266.6 273.3,238.3 274.8,262.3 276.1,271.0 277.6,244.8 279.4,253.6 280.9,277.6 282.4,286.3 284.2,262.3 285.7,271.0 287.5,243.7 289.0,260.1 290.3,240.5 291.8,251.4 293.4,239.4 295.1,255.7 296.8,264.5 298.4,254.6 299.9,277.6 301.7,248.1 303.3,271.0 304.8,257.9 306.5,275.4 308.3,251.4 309.8,249.2 311.3,247.0 312.7,244.8 314.2,240.5 315.7,257.9 317.0,277.6 318.5,286.3 320.1,275.4 321.8,264.5 323.6,251.4 325.1,273.2 326.6,257.9 328.4,228.5 329.9,257.9 331.6,231.7 333.2,262.3 334.5,277.6 336.0,253.6 337.5,242.6 338.8,240.5 340.4,271.0 341.9,268.8 343.6,255.7 345.8,216.5 347.6,240.5 349.1,261.2 350.6,240.5 352.4,227.4 353.9,257.9 355.6,225.2 357.2,240.5 358.9,216.5 360.4,225.2 362.2,220.8 363.7,229.5 365.5,244.8 367.2,252.5 368.7,260.1 370.3,247.0 372.0,179.4 373.3,240.5 374.6,262.3 375.9,223.0 377.5,227.4 379.0,236.1 380.7,221.9 382.5,240.5 384.0,249.2 385.5,242.6 387.3,243.7 389.0,281.9 390.6,247.0 391.6,253.6 393.2,290.6 394.9,220.8 396.4,238.3 398.2,218.6 399.9,216.5 401.5,218.6 403.0,266.6 404.7,257.9 406.3,264.5 408.0,251.4 409.8,236.1 411.3,220.8 412.8,200.1 414.6,231.7 416.1,218.6 417.8,205.5 419.5,193.9 421.0,240.4 422.8,260.5 424.6,268.0 426.6,225.3 428.3,237.8 429.8,232.8 431.6,260.5 433.4,235.3 435.1,225.3 436.6,237.8 438.4,230.3 440.1,240.4 441.7,247.9 443.7,270.5 445.4,250.4 447.4,255.4 449.2,278.1 451.0,237.8 452.5,212.7 454.2,225.3 456.2,212.7 458.0,240.4 459.8,258.0 461.8,237.8 463.5,212.7 465.5,245.4 467.3,258.0 469.3,250.4 471.3,265.5 473.1,283.1 474.8,265.5 476.8,245.4 478.9,205.2 480.6,232.8 482.4,250.4 484.4,255.4 486.4,245.4 488.2,258.0 489.9,227.8 491.9,237.8 493.9,250.4 495.7,235.3 497.7,252.9 499.5,215.2 501.5,225.3 503.2,240.4 505.0,212.7 507.0,237.8 509.0,230.3 510.8,250.4 512.8,220.2 514.6,240.4 516.6,258.0 518.3,237.8 520.1,245.4 522.1,252.9 524.1,258.0 525.9,278.1 527.6,258.0 529.6,293.1 531.6,263.0 533.4,270.5 535.2,250.4 537.2,260.5 539.2,240.4 541.0,245.4 542.7,232.8 544.7,237.8 546.7,250.4 549.5,245.0" stroke="#d9d9e6" stroke-width="1.9"/>
<polyline points="188.8,217.5 190.4,233.9 192.1,218.6 194.3,188.1 195.6,201.2 196.5,240.5 197.5,280.0 198.0,320.0 199.3,380.0 200.6,410.0 200.9,432.8 202.4,449.2 205.7,450.8 208.1,441.0 210.6,459.8 213.0,445.9 215.5,432.8 218.0,423.8 219.6,423.0 221.2,427.9 222.9,439.3 225.3,440.2 226.8,440.6 228.3,434.0 229.8,440.6 232.7,441.7 235.5,441.7 237.0,447.1 238.5,441.7 240.0,446.1 241.4,441.8 242.9,444.7 244.0,441.8 245.1,441.8 245.8,457.7 246.9,476.5 248.4,478.0 249.4,486.6 250.8,477.2 251.9,483.7 253.0,486.6 258.1,486.6 259.5,480.8 261.4,469.3 262.9,476.5 264.3,478.0 265.8,470.7 267.5,464.9 268.9,459.1 270.4,464.9 271.5,467.8 274.7,468.5 277.6,468.5 279.1,462.0 281.2,460.6 284.1,460.6 285.6,464.9 287.0,475.1 288.5,485.2 289.9,479.4 291.4,486.6 293.2,478.0 294.7,464.9 296.4,463.5 297.9,451.9 299.3,454.8 300.5,450.5 301.9,457.7 303.7,459.1 306.5,459.1 308.0,459.9 309.4,464.9 310.9,468.5 312.3,468.5 313.8,462.0 315.9,459.1 318.0,452.4 319.5,443.6 320.9,442.2 323.1,442.2 324.5,450.2 327.5,450.9 328.9,458.2 330.4,468.4 331.8,459.6 333.3,466.9 334.7,468.4 336.9,468.4 338.4,477.1 339.8,468.4 342.0,468.4 343.5,464.0 344.9,468.4 346.4,464.0 347.8,458.2 349.3,443.6 350.7,433.5 351.7,439.3 352.9,417.5 354.1,405.8 355.5,411.6 356.5,417.5 358.0,429.1 359.5,433.5 361.6,432.0 363.1,424.7 364.5,423.3 366.0,420.4 367.2,429.1 368.2,436.4 369.6,442.2 371.1,449.5 372.5,450.9 374.0,442.2 375.5,442.2 376.9,449.5 379.1,450.9 382.0,450.9 383.5,442.2 385.6,442.2 387.1,446.5 388.5,442.2 390.0,433.5 391.5,439.3 392.9,442.2 395.1,442.2 396.5,446.5 398.0,450.9 398.0,443.0 399.5,450.3 400.9,441.5 402.4,450.3 407.5,450.3 408.9,441.5 411.1,445.9 412.5,459.0 414.0,448.8 415.5,441.5 422.0,441.5 423.5,432.8 428.5,432.8 430.3,428.5 431.5,423.4 432.9,441.5 444.5,443.0 446.0,451.0 448.2,451.0 449.6,444.5 451.1,437.2 452.5,432.8 454.0,431.4 455.5,424.1 456.9,431.4 458.4,425.5 459.8,418.3 461.3,413.9 462.7,422.6 464.2,415.4 465.6,413.9 467.8,406.6 470.0,412.5 472.2,424.1 473.6,413.9 475.1,403.7 477.3,400.8 479.4,396.3 481.9,395.0 483.1,391.8 485.6,388.0 488.2,395.6 489.4,396.3 493.2,405.1 494.9,420.1 497.0,415.1 499.0,402.5 500.7,405.1 502.5,395.0 504.0,388.0 504.5,405.1 506.5,415.1 508.3,407.6 510.0,415.1 511.5,402.5 513.3,405.1 515.1,422.7 517.1,427.7 519.1,422.7 520.8,430.2 522.6,422.7 524.6,427.7 526.6,422.7 528.4,432.7 530.1,427.7 532.1,425.2 534.2,427.7 535.9,465.4 537.2,467.9 539.7,467.9 541.7,452.8 542.7,460.4 544.2,447.8 545.2,432.7 546.2,395.0 547.2,300.0 548.5,217.7" stroke="#96cde8" stroke-width="1.9"/>
<polyline points="196.9,177.7 197.3,250.0 197.8,300.0 199.3,330.0 200.5,350.0 201.3,362.0 203.0,353.3 204.5,364.2 206.1,348.9 207.8,359.8 209.6,346.7 211.1,351.1 212.6,333.6 214.4,342.4 216.1,355.5 217.6,346.7 219.2,362.0 220.9,368.5 222.7,357.6 224.2,362.0 225.7,357.6 227.5,364.2 229.2,355.5 230.7,359.8 232.3,355.5 234.0,359.8 235.7,353.3 237.3,362.0 239.0,355.5 240.5,364.2 242.3,357.6 243.8,372.9 245.4,362.0 247.1,377.3 248.8,390.4 250.4,366.4 251.9,364.2 253.6,355.5 255.4,344.5 256.9,357.6 258.4,362.0 260.2,372.9 261.9,368.5 263.5,377.3 265.0,375.1 266.7,383.8 268.5,379.5 270.0,368.5 271.5,362.0 273.3,357.6 275.0,368.5 276.6,364.2 278.1,355.5 279.8,379.5 281.6,366.4 283.1,362.0 284.6,370.7 286.4,357.6 288.1,362.0 289.6,355.5 291.2,348.9 292.9,355.5 294.7,346.7 296.2,333.6 297.7,342.4 299.5,333.6 301.2,320.5 302.7,322.7 304.3,329.3 306.5,344.5 308.3,355.5 309.8,359.8 311.3,351.1 313.1,346.7 314.8,351.1 316.4,359.8 317.9,353.3 319.6,364.2 321.2,355.5 322.9,344.5 324.4,362.0 325.7,372.9 327.3,355.5 328.8,364.2 330.5,362.0 332.3,353.3 333.8,377.3 335.3,355.5 337.1,353.3 339.3,352.2 341.5,353.3 343.2,355.5 344.7,344.5 346.3,331.5 348.0,338.0 349.7,344.5 351.3,340.2 352.8,348.9 354.5,324.9 356.3,316.2 357.8,314.0 359.3,322.7 360.7,316.2 362.2,333.6 363.7,344.5 365.5,351.1 367.2,359.8 368.7,344.5 370.3,351.1 372.0,362.0 373.8,342.4 374.6,324.9 375.9,346.7 377.5,351.1 379.0,346.7 380.7,355.5 382.5,348.9 384.0,355.5 385.5,338.0 387.3,344.5 389.0,368.5 390.6,362.0 392.1,351.1 393.8,344.5 395.6,368.5 397.1,372.9 398.6,355.5 400.4,344.5 402.1,362.0 403.6,368.5 405.2,364.2 406.9,359.8 408.7,362.0 410.2,357.6 411.7,355.5 413.5,357.6 414.0,352.8 416.5,337.8 417.8,327.7 419.5,350.3 421.5,365.4 423.6,352.8 425.3,347.8 427.1,357.9 428.6,345.3 430.3,360.4 432.1,342.8 434.1,347.8 436.1,337.8 437.9,325.2 439.6,330.2 441.7,320.2 443.7,312.6 445.4,317.7 447.2,305.1 449.2,302.6 450.0,298.9 451.9,300.8 453.7,312.0 455.2,317.5 456.5,295.2 457.8,287.7 458.9,304.5 460.2,291.5 461.5,267.3 463.0,248.6 464.5,239.3 465.0,225.3 466.8,202.7 468.6,202.7 469.8,225.3 471.3,225.3 472.8,229.0 474.3,212.7 475.6,217.7 476.8,232.8 477.9,241.2 480.7,248.6 482.6,254.2 483.9,267.3 485.0,285.9 486.3,295.2 487.6,300.8 489.1,285.9 490.6,267.3 491.9,257.9 493.8,244.9 495.6,233.7 496.6,241.2 498.1,263.5 499.4,282.2 500.7,291.5 502.2,300.8 503.6,308.2 504.9,297.1 506.2,304.5 507.7,297.1 509.2,313.8 510.5,321.3 511.5,308.2 512.4,300.8 513.3,308.2 514.3,295.2 515.6,276.6 516.7,261.7 518.0,272.8 519.3,267.3 520.8,269.1 522.6,259.8 524.1,250.5 525.4,241.2 526.7,230.0 527.1,212.7 530.1,177.7" stroke="#e8202c" stroke-width="1.9"/>
<polyline points="198.4,189.2 199.2,250.0 199.7,330.0 200.2,392.6 201.3,383.8 204.5,377.3 207.8,364.2 209.8,350.0 210.9,346.7 212.5,340.2 214.7,346.7 216.9,339.0 218.5,327.0 219.6,324.9 221.3,316.2 222.7,302.2 224.8,309.6 226.4,327.1 227.9,353.3 228.9,347.8 231.8,335.8 232.9,330.4 234.4,333.6 236.2,342.4 238.4,353.3 240.5,366.4 242.3,379.5 243.8,394.7 245.7,401.5 247.8,410.2 250.0,414.5 252.2,423.2 254.4,425.4 255.9,429.7 257.6,416.7 259.4,412.4 260.9,416.7 262.4,403.7 263.7,395.0 265.2,403.7 266.7,401.5 268.5,412.4 270.2,416.7 271.7,412.4 273.2,416.7 275.0,403.7 276.7,416.7 278.2,421.0 279.7,425.4 281.5,429.7 283.2,431.9 284.7,425.4 286.3,418.9 288.0,414.5 289.7,416.7 291.3,412.4 292.8,408.0 294.5,399.3 296.2,394.0 298.8,392.0 300.0,399.3 301.7,405.9 303.9,415.6 306.1,414.5 308.2,418.9 310.4,422.1 312.6,416.7 314.8,414.5 316.9,416.7 319.1,401.5 320.6,394.7 322.1,399.3 324.0,403.5 325.6,408.0 327.1,412.4 328.6,408.0 330.4,410.2 332.1,403.7 334.3,397.2 335.8,405.9 337.3,395.0 339.1,405.9 340.8,418.9 342.3,423.2 344.5,425.4 346.7,418.9 348.8,408.0 350.2,390.4 353.5,381.6 356.3,381.6 358.9,390.4 361.6,402.9 363.1,411.6 364.5,417.5 366.0,434.9 367.5,436.4 368.9,433.5 370.4,420.4 371.5,414.5 373.0,418.9 374.4,414.5 375.5,411.6 376.9,414.5 378.4,426.2 379.8,429.1 380.8,421.8 382.0,416.0 383.5,423.3 384.9,429.1 386.4,433.5 387.5,434.9 388.5,437.8 390.0,440.7 391.5,445.1 392.9,449.5 394.4,443.6 395.8,442.2 397.3,442.2 398.0,441.5 399.5,434.3 400.9,429.9 402.4,425.5 403.8,424.8 405.3,422.6 406.7,421.2 407.9,429.9 408.9,412.5 409.6,402.3 411.1,400.8 412.1,395.0 413.0,368.5 415.2,375.1 416.5,372.0 417.8,378.0 418.4,395.0 419.8,409.5 421.3,428.5 422.7,440.1 423.9,441.5 425.6,437.2 427.8,435.7 429.3,432.8 430.7,428.5 432.2,431.4 433.6,428.5 435.1,429.9 436.5,428.5 438.0,422.6 439.5,421.2 440.9,416.8 442.4,412.5 443.8,406.6 445.3,403.7 446.0,395.0 446.2,395.6 447.9,385.5 450.5,375.5 453.0,373.0 455.5,362.9 457.2,350.3 459.2,335.2 460.2,317.5 461.5,308.2 463.0,291.5 464.5,278.4 466.4,267.3 467.7,265.4 469.2,271.0 470.9,267.3 472.4,263.5 473.8,259.8 475.1,246.8 476.4,235.6 477.6,225.0 478.9,212.7 480.6,217.7 482.4,227.8 484.4,242.9 485.6,250.4 487.3,248.6 489.1,241.2 490.7,220.2 492.4,200.1 493.9,190.1 495.7,200.1 497.5,225.3 499.0,245.4 500.7,253.3 502.2,248.6 504.0,244.9 505.9,237.5 507.7,228.0 508.3,210.2 509.5,200.1 510.8,192.6 512.0,190.1 517.1,190.1 522.1,190.1 523.4,197.6 525.1,195.1 526.6,190.1" stroke="#f2e414" stroke-width="1.9"/>
</g>
<g clip-path="url(#czp)">
<line x1="232.5" y1="342.5" x2="232.5" y2="486" stroke="#b8b8b8" stroke-width="1.8" stroke-dasharray="12.2 4.6"/>
<line x1="263.1" y1="342.5" x2="263.1" y2="486" stroke="#b8b8b8" stroke-width="1.8" stroke-dasharray="12.2 4.6"/>
<line x1="321.2" y1="342.5" x2="321.2" y2="486" stroke="#b8b8b8" stroke-width="1.8" stroke-dasharray="12.2 4.6"/>
<line x1="374.2" y1="342.5" x2="374.2" y2="486" stroke="#b8b8b8" stroke-width="1.8" stroke-dasharray="12.2 4.6"/>
<line x1="450.5" y1="342.5" x2="450.5" y2="486" stroke="#b8b8b8" stroke-width="1.8" stroke-dasharray="12.2 4.6"/>
<line x1="468.0" y1="342.5" x2="468.0" y2="486" stroke="#b8b8b8" stroke-width="1.8" stroke-dasharray="12.2 4.6"/>
<line x1="220.1" y1="351" x2="220.1" y2="486" stroke="#9a1f88" stroke-width="1.8" stroke-dasharray="16 4.5"/>
<line x1="296.2" y1="351" x2="296.2" y2="486" stroke="#9a1f88" stroke-width="1.8" stroke-dasharray="16 4.5"/>
<line x1="357.2" y1="351" x2="357.2" y2="486" stroke="#9a1f88" stroke-width="1.8" stroke-dasharray="16 4.5"/>
<line x1="417.8" y1="351" x2="417.8" y2="486" stroke="#9a1f88" stroke-width="1.8" stroke-dasharray="16 4.5"/>
<line x1="494.5" y1="284.5" x2="494.5" y2="486" stroke="#9a1f88" stroke-width="1.8" stroke-dasharray="16 4.5"/>
<line x1="514.7" y1="284.5" x2="514.7" y2="486" stroke="#9a1f88" stroke-width="1.8" stroke-dasharray="16 4.5"/>
<line x1="480.8" y1="266.5" x2="480.8" y2="486" stroke="#ee88b4" stroke-width="1.8" stroke-dasharray="16.5 4.3"/>
<line x1="193.6" y1="313.5" x2="193.6" y2="486" stroke="#1e2a8a" stroke-width="1.8" stroke-dasharray="13.5 6"/>
<line x1="539.3" y1="313.5" x2="539.3" y2="486" stroke="#1e2a8a" stroke-width="1.8" stroke-dasharray="13.5 6"/>
</g>
<line x1="232.5" y1="490.4" x2="232.5" y2="500.3" stroke="#b8b8b8" stroke-width="1.8"/>
<line x1="263.1" y1="490.4" x2="263.1" y2="500.3" stroke="#b8b8b8" stroke-width="1.8"/>
<line x1="321.2" y1="490.4" x2="321.2" y2="500.3" stroke="#b8b8b8" stroke-width="1.8"/>
<line x1="374.2" y1="490.4" x2="374.2" y2="500.3" stroke="#b8b8b8" stroke-width="1.8"/>
<line x1="450.5" y1="490.4" x2="450.5" y2="500.3" stroke="#b8b8b8" stroke-width="1.8"/>
<line x1="468.0" y1="490.4" x2="468.0" y2="500.3" stroke="#b8b8b8" stroke-width="1.8"/>
<line x1="220.1" y1="486" x2="220.1" y2="495.5" stroke="#9a1f88" stroke-width="1.8"/>
<line x1="220.1" y1="497.7" x2="220.1" y2="509.3" stroke="#9a1f88" stroke-width="1.8"/>
<line x1="296.2" y1="486" x2="296.2" y2="495.5" stroke="#9a1f88" stroke-width="1.8"/>
<line x1="296.2" y1="497.7" x2="296.2" y2="509.3" stroke="#9a1f88" stroke-width="1.8"/>
<line x1="357.2" y1="486" x2="357.2" y2="495.5" stroke="#9a1f88" stroke-width="1.8"/>
<line x1="357.2" y1="497.7" x2="357.2" y2="509.3" stroke="#9a1f88" stroke-width="1.8"/>
<line x1="417.8" y1="486" x2="417.8" y2="495.5" stroke="#9a1f88" stroke-width="1.8"/>
<line x1="417.8" y1="497.7" x2="417.8" y2="509.3" stroke="#9a1f88" stroke-width="1.8"/>
<line x1="494.5" y1="486" x2="494.5" y2="495.5" stroke="#9a1f88" stroke-width="1.8"/>
<line x1="494.5" y1="497.7" x2="494.5" y2="509.3" stroke="#9a1f88" stroke-width="1.8"/>
<line x1="514.7" y1="486" x2="514.7" y2="495.5" stroke="#9a1f88" stroke-width="1.8"/>
<line x1="514.7" y1="497.7" x2="514.7" y2="509.3" stroke="#9a1f88" stroke-width="1.8"/>
<line x1="480.8" y1="490" x2="480.8" y2="517" stroke="#ee88b4" stroke-width="1.8"/>
<line x1="193.6" y1="490.4" x2="193.6" y2="505" stroke="#1e2a8a" stroke-width="1.8"/>
<line x1="193.6" y1="508.6" x2="193.6" y2="524.6" stroke="#1e2a8a" stroke-width="1.8"/>
<circle cx="193.6" cy="530.9" r="1.0" fill="#1e2a8a"/>
<line x1="539.3" y1="490.4" x2="539.3" y2="505" stroke="#1e2a8a" stroke-width="1.8"/>
<line x1="539.3" y1="508.6" x2="539.3" y2="524.6" stroke="#1e2a8a" stroke-width="1.8"/>
<circle cx="539.3" cy="530.9" r="1.0" fill="#1e2a8a"/>
<text x="193.4" y="546.1" font-family="Liberation Sans, Arial, sans-serif" font-size="13" text-anchor="middle" fill="#1e2a8a">Qlt1</text>
<text x="219.6" y="523.1" font-family="Liberation Sans, Arial, sans-serif" font-size="13" text-anchor="middle" fill="#9a1f88">Qlt3</text>
<text x="249.8" y="513.1" font-family="Liberation Sans, Arial, sans-serif" font-size="13" text-anchor="middle" fill="#b8b8b8">Qlt4</text>
<text x="296.9" y="523.1" font-family="Liberation Sans, Arial, sans-serif" font-size="13" text-anchor="middle" fill="#9a1f88">Qlt3</text>
<text x="321.1" y="513.1" font-family="Liberation Sans, Arial, sans-serif" font-size="13" text-anchor="middle" fill="#b8b8b8">Qlt4</text>
<text x="354.1" y="523.1" font-family="Liberation Sans, Arial, sans-serif" font-size="13" text-anchor="middle" fill="#9a1f88">Qlt3</text>
<text x="382.2" y="513.1" font-family="Liberation Sans, Arial, sans-serif" font-size="13" text-anchor="middle" fill="#b8b8b8">Qlt4</text>
<text x="417.7" y="523.1" font-family="Liberation Sans, Arial, sans-serif" font-size="13" text-anchor="middle" fill="#9a1f88">Qlt3</text>
<text x="459" y="513.1" font-family="Liberation Sans, Arial, sans-serif" font-size="13" text-anchor="middle" fill="#b8b8b8">Qlt4</text>
<text x="482.2" y="535.7" font-family="Liberation Sans, Arial, sans-serif" font-size="13" text-anchor="middle" fill="#ee88b4">Qlt2</text>
<text x="505.7" y="523.1" font-family="Liberation Sans, Arial, sans-serif" font-size="13" text-anchor="middle" fill="#9a1f88">Qlt3</text>
<text x="541.8" y="546.7" font-family="Liberation Sans, Arial, sans-serif" font-size="13" text-anchor="middle" fill="#1e2a8a">Qlt1</text>
</svg>
</body></html>
